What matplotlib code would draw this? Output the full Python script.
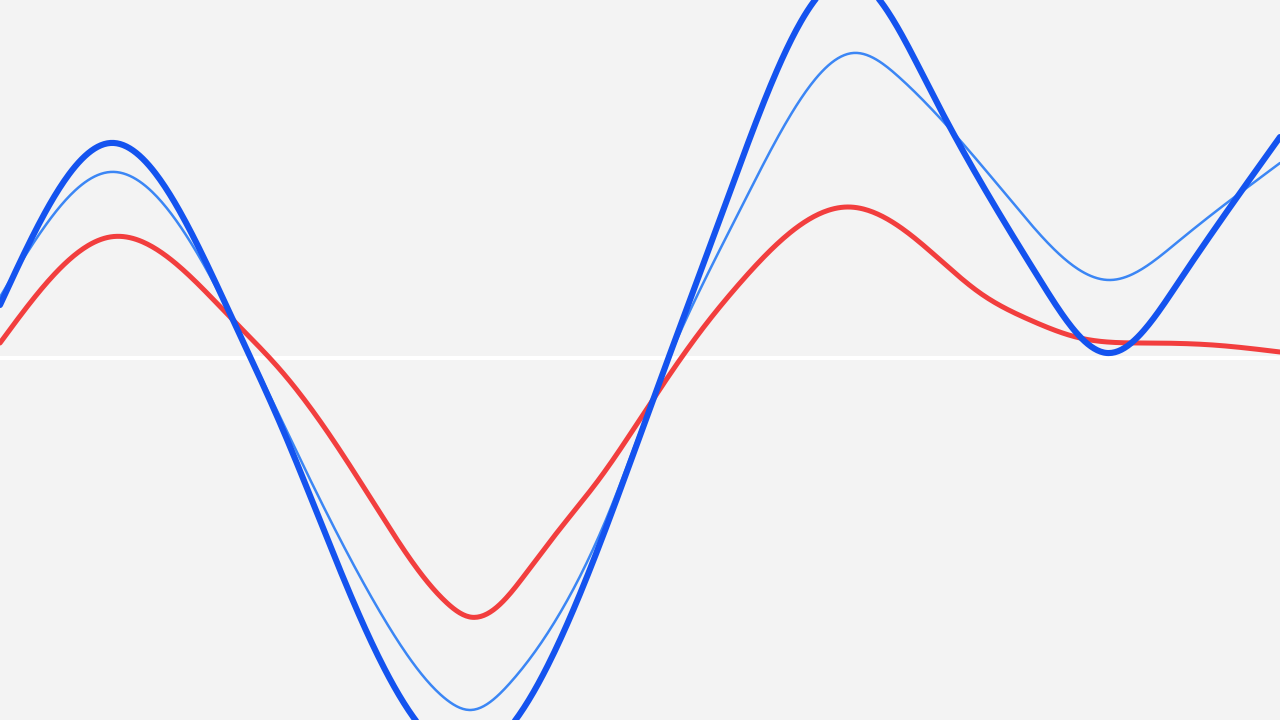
import numpy as np
import matplotlib
matplotlib.use("Agg")
import matplotlib.pyplot as plt

# values (x in tens of pixels, value above the white baseline)
thick_x = [0, 11, 23.3, 28.3, 36, 46.5, 56, 65.3, 72.7, 85.2, 93.3, 104, 110.7, 118, 128]
thick_y = [5.3, 21.5, 3.8, -7.2, -25.9, -39.8, -28.2, -4.2, 15.8, 38.0, 26.3, 7.8, 0.5, 7.8, 22.1]

thin_x = [0, 11, 23.3, 29, 38.3, 44.7, 47, 51, 56, 61, 65.7, 74, 80, 85.3, 90, 101.3, 111, 118, 128]
thin_y = [6.1, 18.6, 3.8, -8.0, -25.9, -34.2, -35.2, -32.5, -25.5, -15.2, -2.9, 14.8, 25.8, 30.5,
          28.0, 15.5, 7.8, 11.8, 19.5]

red_x = [0, 11, 23.3, 28.3, 33.3, 38, 41.3, 44.7, 47, 49.7, 53, 56.3, 60, 65, 70, 74, 84.8, 91.7,
         98, 103, 108, 114.7, 121.3, 128]
red_y = [1.5, 12.1, 3.8, -1.5, -8.2, -15.5, -20.5, -24.5, -25.9, -24.9, -21.0, -16.7, -12.0, -4.6,
         2.6, 7.5, 15.1, 11.8, 6.5, 3.8, 2.0, 1.5, 1.3, 0.6]


def smooth(x, y, n=800):
    # natural cubic spline, just to draw the curve smoothly through the points
    x = np.asarray(x, float)
    y = np.asarray(y, float)
    k = len(x)
    h = np.diff(x)
    A = np.zeros((k, k))
    b = np.zeros(k)
    A[0, 0] = A[-1, -1] = 1
    for i in range(1, k - 1):
        A[i, i - 1] = h[i - 1]
        A[i, i] = 2 * (h[i - 1] + h[i])
        A[i, i + 1] = h[i]
        b[i] = 6 * ((y[i + 1] - y[i]) / h[i] - (y[i] - y[i - 1]) / h[i - 1])
    M = np.linalg.solve(A, b)
    xs = np.linspace(x[0], x[-1], n)
    j = np.clip(np.searchsorted(x, xs) - 1, 0, k - 2)
    a = x[j + 1] - xs
    c = xs - x[j]
    hj = h[j]
    ys = (M[j] * a**3 / (6 * hj) + M[j + 1] * c**3 / (6 * hj)
          + (y[j] / hj - M[j] * hj / 6) * a + (y[j + 1] / hj - M[j + 1] * hj / 6) * c)
    return xs, ys


fig = plt.figure(figsize=(12.8, 7.2), dpi=100, facecolor="#f3f3f3")
ax = fig.add_axes([0, 0, 1, 1])
ax.set_facecolor("#f3f3f3")
ax.set_xlim(0, 128)
ax.set_ylim(-36.2, 35.8)
ax.axis("off")

ax.axhline(0, color="white", lw=3, zorder=1)

xs, ys = smooth(red_x, red_y)
ax.plot(xs, ys, color="#f23e3e", lw=3.6, solid_capstyle="round", zorder=2)
xs, ys = smooth(thin_x, thin_y)
ax.plot(xs, ys, color="#3b86f5", lw=1.8, solid_capstyle="round", zorder=3)
xs, ys = smooth(thick_x, thick_y)
ax.plot(xs, ys, color="#1453ef", lw=4.4, solid_capstyle="round", zorder=4)

fig.savefig("out.png", dpi=100, facecolor=fig.get_facecolor())
